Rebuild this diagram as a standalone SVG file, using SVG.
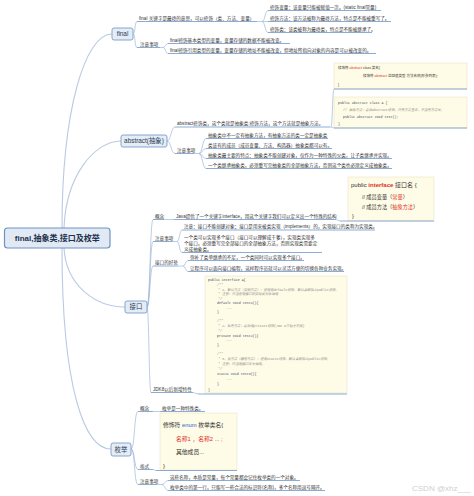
<svg xmlns="http://www.w3.org/2000/svg" width="474" height="496" viewBox="0 0 474 496">
<style>
.t{font-family:"Liberation Sans","Noto Sans CJK SC",sans-serif;font-size:4.6px;fill:#333}
.ul{stroke:#5a86c5;stroke-width:0.7;fill:none}
.cn{stroke:#9fb8d9;stroke-width:0.7;fill:none}
.mc{stroke:#b9cbe3;stroke-width:1.1;fill:none}
.nb{fill:#e4ecf6;stroke:#7b9dcb;stroke-width:0.9}
.nt{font-family:"Liberation Sans","Noto Sans CJK SC",sans-serif;font-size:6.4px;fill:#2b3a55;text-anchor:middle}
.code{fill:#fefbe6;stroke:#e6dfc0;stroke-width:0.5}
.m{font-family:"Liberation Mono","Noto Sans CJK SC",monospace;font-size:3.3px;fill:#3b4a6b}
.cm{fill:#8c8c8c;font-style:italic}
.s{font-family:"Liberation Sans","Noto Sans CJK SC",sans-serif;fill:#333}
.red{fill:#e0302a}
.blue{fill:#2a5fd0}
</style>
<rect width="474" height="496" fill="#ffffff"/>

<g id="connectors">
<path class="mc" d="M62 228 C62 110 85 34 112 34"/>
<path class="mc" d="M64 228 C66 175 95 141 121 141"/>
<path class="mc" d="M64 248 C66 285 95 307 125 307"/>
<path class="mc" d="M62 248 C62 390 85 449 111 449"/>
<path class="cn" d="M133 34 C135.5 34 134.5 21.5 137 21.5 M133 34 C135.5 34 134.5 47.5 137 47.5"/>
<path class="cn" d="M257 21.5 L262 21.5 C265 21.5 265 10.5 268 10.5 M262 21.5 L268 21.5 M262 21.5 C265 21.5 265 32.5 268 32.5"/>
<path class="cn" d="M160 47.5 L163 47.5 C165.5 47.5 165.5 43.5 168 43.5 M163 47.5 C165.5 47.5 165.5 53.5 168 53.5"/>
<path class="cn" d="M167 141 C171 141 171 127 175 127 M167 141 C171 141 171 153.5 175 153.5"/>
<path class="cn" d="M330 127 L331 127 C332.5 127 332.5 89 334 89 M331 127 L334 128"/>
<path class="cn" d="M194 153.5 L199 153.5 C202.5 153.5 202.5 138.5 206 138.5 M199 153.5 C202.5 153.5 202.5 148.5 206 148.5 M199 153.5 C202.5 153.5 202.5 158.5 206 158.5 M199 153.5 C202.5 153.5 202.5 168.5 206 168.5"/>
<path class="cn" d="M147 307 C150 307 150 219.5 153 219.5 M147 307 C150 307 150 241.5 153 241.5 M147 307 C150 307 150 266 153 266 M147 307 C149 307 149 392.5 151 392.5"/>
<path class="cn" d="M164 219.5 L174 219.5"/>
<path class="cn" d="M336 219.5 L340 221"/>
<path class="cn" d="M172 241.5 L177 241.5 C179.5 241.5 179.5 230 182 230 M177 241.5 C179.5 241.5 179.5 252.5 182 252.5"/>
<path class="cn" d="M178 266 L183 266 C185.5 266 185.5 260.5 188 260.5 M183 266 C185.5 266 185.5 271.5 188 271.5"/>
<path class="cn" d="M193 392.5 L198 394"/>
<path class="cn" d="M131 449 C135 449 134 411.5 138 411.5 M131 449 C135 449 134 469.5 138 469.5 M131 449 C135 449 134 484.5 138 484.5"/>
<path class="cn" d="M153 411.5 L160 411.5"/>
<path class="cn" d="M153 469.5 L156 470.5"/>
<path class="cn" d="M157 484.5 L162 484.5 C165 484.5 165 480.5 168 480.5 M162 484.5 C165 484.5 165 490.5 168 490.5"/>
</g>

<g id="root">
<rect x="4.5" y="228" width="105.5" height="20" rx="3" fill="#e1e9f4" stroke="#6f93c4" stroke-width="1.2"/>
<text x="57.2" y="241" text-anchor="middle" font-family="Liberation Sans,Noto Sans CJK SC,sans-serif" font-size="8px" font-weight="bold" fill="#22324d">final,抽象类,接口及枚举</text>
</g>

<g id="n-final">
<rect class="nb" x="112" y="28" width="21" height="12" rx="2"/>
<text class="nt" x="122.5" y="36.3">final</text>
</g>
<g id="f1"><text class="t" x="139" y="19.6">final 关键字是最终的意思，可以修饰（类、方法、变量）</text><line class="ul" x1="137" y1="21.5" x2="257" y2="21.5"/></g>
<g id="f1a"><text class="t" x="270" y="8.6">修饰变量：该变量只能被赋值一次。(static final常量)</text><line class="ul" x1="268" y1="10.5" x2="381" y2="10.5"/></g>
<g id="f1b"><text class="t" x="270" y="19.6">修饰方法：该方法被称为最终方法，特点是不能被重写了。</text><line class="ul" x1="268" y1="21.5" x2="391" y2="21.5"/></g>
<g id="f1c"><text class="t" x="270" y="30.6">修饰类：该类被称为最终类，特点是不能被继承了。</text><line class="ul" x1="268" y1="32.5" x2="372" y2="32.5"/></g>
<g id="f2"><text class="t" x="140" y="45.6">注意事项</text><line class="ul" x1="137" y1="47.5" x2="160" y2="47.5"/></g>
<g id="f2a"><text class="t" x="170" y="41.6">final修饰基本类型的变量，变量存储的数据不能被改变。</text><line class="ul" x1="168" y1="43.5" x2="290" y2="43.5"/></g>
<g id="f2b"><text class="t" x="170" y="51.6">final修饰引用类型的变量，变量存储的地址不能被改变，但地址所指向对象的内容是可以被改变的。</text><line class="ul" x1="168" y1="53.5" x2="376" y2="53.5"/></g>

<g id="n-abstract">
<rect class="nb" x="121" y="135" width="46" height="12" rx="2"/>
<text class="nt" x="144" y="143.2" font-size="6.2px">abstract(抽象)</text>
</g>
<g id="a1"><text class="t" x="177" y="125">abstract修饰类，这个类就是抽象类;修饰方法，这个方法就是抽象方法。</text><line class="ul" x1="175" y1="127" x2="330" y2="127"/></g>
<g id="a1-code1">
<rect class="code" x="334" y="63" width="133" height="26"/>
<text class="s" font-size="3.5px" x="338" y="68.5">修饰符 <tspan class="red">abstract</tspan> class 类名{</text>
<text class="s" font-size="3.5px" x="363" y="76.5">修饰符 <tspan class="red">abstract</tspan> 返回值类型 方法名称(形参列表);</text>
<text class="s" font-size="3.5px" x="338" y="86">}</text>
<line class="ul" x1="334" y1="89" x2="467" y2="89"/>
</g>
<g id="a1-code2">
<rect class="code" x="334" y="97" width="133" height="31"/>
<text class="m" x="338" y="103.5">public abstract class A {</text>
<text class="m cm" x="343" y="110.5">// 抽象方法：必须abstract修饰，只有方法签名，不能有方法体。</text>
<text class="m" x="343" y="118">public abstract void test();</text>
<text class="m" x="338" y="125">}</text>
<line class="ul" x1="334" y1="128" x2="467" y2="128"/>
</g>
<g id="a2"><text class="t" x="177" y="151.6">注意事项</text><line class="ul" x1="175" y1="153.5" x2="194" y2="153.5"/></g>
<g id="a2a"><text class="t" x="208" y="136.6">抽象类中不一定有抽象方法，有抽象方法的类一定是抽象类</text><line class="ul" x1="206" y1="138.5" x2="328" y2="138.5"/></g>
<g id="a2b"><text class="t" x="208" y="146.6">类该有的成员（成员变量、方法、构造器）抽象类都可以有。</text><line class="ul" x1="206" y1="148.5" x2="332" y2="148.5"/></g>
<g id="a2c"><text class="t" x="208" y="156.6">抽象类最主要的特点：抽象类不能创建对象，仅作为一种特殊的父类，让子类继承并实现。</text><line class="ul" x1="206" y1="158.5" x2="392" y2="158.5"/></g>
<g id="a2d"><text class="t" x="208" y="166.6">一个类继承抽象类，必须重写完抽象类的全部抽象方法，否则这个类也必须定义成抽象类。</text><line class="ul" x1="206" y1="168.5" x2="392" y2="168.5"/></g>

<g id="n-interface">
<rect class="nb" x="125" y="301" width="22" height="12" rx="2"/>
<text class="nt" x="136" y="309.3">接口</text>
</g>
<g id="i1"><text class="t" x="155" y="218">概念</text><line class="ul" x1="153" y1="219.5" x2="164" y2="219.5"/></g>
<g id="i1a"><text class="t" x="176" y="218">Java提供了一个关键字interface，用这个关键字我们可以定义出一个特殊的结构</text><line class="ul" x1="174" y1="219.5" x2="336" y2="219.5"/></g>
<g id="i1-code">
<rect class="code" x="348" y="177" width="86" height="44"/>
<text class="s" font-size="6px" x="351" y="187">public <tspan class="red" font-weight="bold">interface</tspan> 接口名 {</text>
<text class="s" font-size="5.2px" x="362" y="199">// 成员变量（<tspan class="red">常量</tspan>）</text>
<text class="s" font-size="5.2px" x="362" y="208.5">// 成员方法（<tspan class="red">抽象方法</tspan>）</text>
<text class="s" font-size="5.5px" x="352" y="218">}</text>
<line class="ul" x1="340" y1="221" x2="434" y2="221"/>
</g>
<g id="i2"><text class="t" x="155" y="239.6">注意事项</text><line class="ul" x1="153" y1="241.5" x2="172" y2="241.5"/></g>
<g id="i2a"><text class="t" x="184" y="228">注意：接口不能创建对象；接口是用来被类实现（implements）的，实现接口的类称为实现类。</text><line class="ul" x1="182" y1="230" x2="375" y2="230"/></g>
<g id="i2b">
<text class="t" x="184" y="238.6">一个类可以实现多个接口（接口可以理解成干爹），实现类实现多</text>
<text class="t" x="184" y="244.6">个接口，必须重写完全部接口的全部抽象方法，否则实现类需要定</text>
<text class="t" x="184" y="250.6">义成抽象类。</text>
<line class="ul" x1="182" y1="252.5" x2="322" y2="252.5"/>
</g>
<g id="i3"><text class="t" x="155" y="264">接口的好处</text><line class="ul" x1="153" y1="266" x2="178" y2="266"/></g>
<g id="i3a"><text class="t" x="190" y="258.6">弥补了类单继承的不足，一个类同时可以实现多个接口。</text><line class="ul" x1="188" y1="260.5" x2="304" y2="260.5"/></g>
<g id="i3b"><text class="t" x="190" y="269.6">让程序可以面向接口编程，这样程序员就可以灵活方便的切换各种业务实现。</text><line class="ul" x1="188" y1="271.5" x2="344" y2="271.5"/></g>
<g id="i4"><text class="t" x="153" y="390.6">JDK8以后新增特性</text><line class="ul" x1="151" y1="392.5" x2="193" y2="392.5"/></g>
<g id="i4-code">
<rect class="code" x="205" y="276" width="142" height="117"/>
<text class="m" font-size="3.5px" x="208" y="281">public interface A{</text>
<text class="m cm" x="217" y="286">/**</text>
<text class="m cm" x="218" y="290.5"> * 1、默认方法（实例方法）：使用用default修饰，默认会被加上public修饰。</text>
<text class="m cm" x="218" y="295"> * 注意：只能使用接口的实现类对象调用</text>
<text class="m cm" x="218" y="299.5"> */</text>
<text class="m" font-size="3.5px" x="217" y="304">default void test1(){</text>
<text class="m" font-size="3.5px" x="226" y="308.5">...</text>
<text class="m" font-size="3.5px" x="217" y="313">}</text>
<text class="m cm" x="217" y="322">/**</text>
<text class="m cm" x="218" y="327"> * 2、私有方法：必须用private修饰(JDK 9开始才支持)</text>
<text class="m cm" x="218" y="332"> */</text>
<text class="m" font-size="3.5px" x="217" y="336.5">private void test2(){</text>
<text class="m" font-size="3.5px" x="226" y="341">...</text>
<text class="m" font-size="3.5px" x="217" y="346">}</text>
<text class="m cm" x="217" y="355">/**</text>
<text class="m cm" x="218" y="360"> * 3、类方法（静态方法）：使用static修饰，默认会被加上public修饰。</text>
<text class="m cm" x="218" y="365"> * 注意：只能用接口名来调用。</text>
<text class="m cm" x="218" y="370"> */</text>
<text class="m" font-size="3.5px" x="217" y="375">static void test3(){</text>
<text class="m" font-size="3.5px" x="226" y="380">...</text>
<text class="m" font-size="3.5px" x="217" y="385">}</text>
<text class="m" font-size="3.5px" x="208" y="391">}</text>
<line class="ul" x1="198" y1="394" x2="347" y2="394"/>
</g>

<g id="n-enum">
<rect class="nb" x="111" y="443" width="20" height="13" rx="2"/>
<text class="nt" x="121" y="451.8">枚举</text>
</g>
<g id="e1"><text class="t" x="140" y="409.6">概念</text><line class="ul" x1="138" y1="411.5" x2="153" y2="411.5"/></g>
<g id="e1a"><text class="t" x="162" y="409.6">枚举是一种特殊类。</text><line class="ul" x1="160" y1="411.5" x2="205" y2="411.5"/></g>
<g id="e2"><text class="t" x="140" y="467.6">格式</text><line class="ul" x1="138" y1="469.5" x2="153" y2="469.5"/></g>
<g id="e2-code">
<rect class="code" x="160" y="413" width="77" height="57"/>
<text class="s" font-size="5.8px" x="163" y="427">修饰符 <tspan class="blue">enum</tspan> 枚举类名{</text>
<text class="s red" font-size="5.8px" x="176" y="441">名称1 ，名称2 ... ;</text>
<text class="s" font-size="5.8px" x="176" y="454">其他成员...</text>
<text class="s" font-size="5.8px" x="163" y="468">}</text>
<line class="ul" x1="156" y1="470.5" x2="237" y2="470.5"/>
</g>
<g id="e3"><text class="t" x="140" y="482.6">注意事项</text><line class="ul" x1="138" y1="484.5" x2="157" y2="484.5"/></g>
<g id="e3a"><text class="t" x="170" y="478.6">这些名称，本质是常量，每个常量都会记住枚举类的一个对象。</text><line class="ul" x1="168" y1="480.5" x2="300" y2="480.5"/></g>
<g id="e3b"><text class="t" x="170" y="488.6">枚举类中的第一行，只能写一些合法的标识符(名称)，多个名称用逗号隔开。</text><line class="ul" x1="168" y1="490.5" x2="325" y2="490.5"/></g>

<text x="412" y="491" font-family="Liberation Sans,sans-serif" font-size="8px" fill="#cfcfcf">CSDN @xhz___</text>
</svg>
